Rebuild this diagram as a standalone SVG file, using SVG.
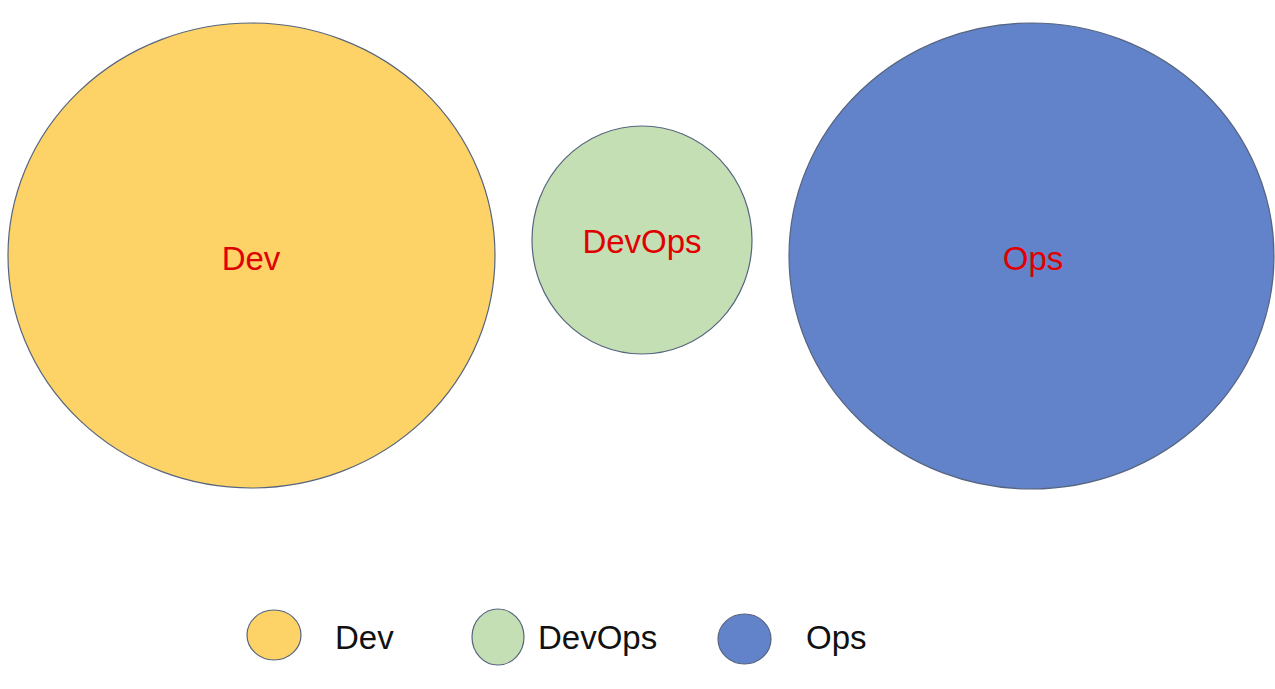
<svg xmlns="http://www.w3.org/2000/svg" width="1275" height="689" viewBox="0 0 1275 689">
<style>
.c{stroke:#56657f;stroke-width:1.2}
.dev{fill:#fdd267}
.devops{fill:#c5dfb5}
.ops{fill:#6283c9}
.lbl{font-family:"Liberation Sans",Arial,sans-serif;font-size:33px;fill:#e00000;text-anchor:middle}
.leg{font-family:"Liberation Sans",Arial,sans-serif;font-size:33px;fill:#111}
</style>
<rect width="1275" height="689" fill="#fff"/>
<g id="node-dev">
<ellipse class="c dev" cx="251.5" cy="255.5" rx="243.5" ry="232.5"/>
<text class="lbl" x="251" y="270">Dev</text>
</g>
<g id="node-devops">
<ellipse class="c devops" cx="642" cy="240" rx="110" ry="114"/>
<text class="lbl" x="642" y="253">DevOps</text>
</g>
<g id="node-ops">
<ellipse class="c ops" cx="1031.5" cy="256" rx="242.5" ry="233"/>
<text class="lbl" x="1033" y="270">Ops</text>
</g>
<g id="connectors"></g>
<g id="legend">
<ellipse class="c dev" cx="274" cy="635" rx="27" ry="25"/>
<text class="leg" x="335" y="649">Dev</text>
<ellipse class="c devops" cx="498" cy="637" rx="26" ry="28"/>
<text class="leg" x="538" y="649">DevOps</text>
<ellipse class="c ops" cx="744.5" cy="639" rx="26.5" ry="25"/>
<text class="leg" x="806" y="649">Ops</text>
</g>
</svg>
